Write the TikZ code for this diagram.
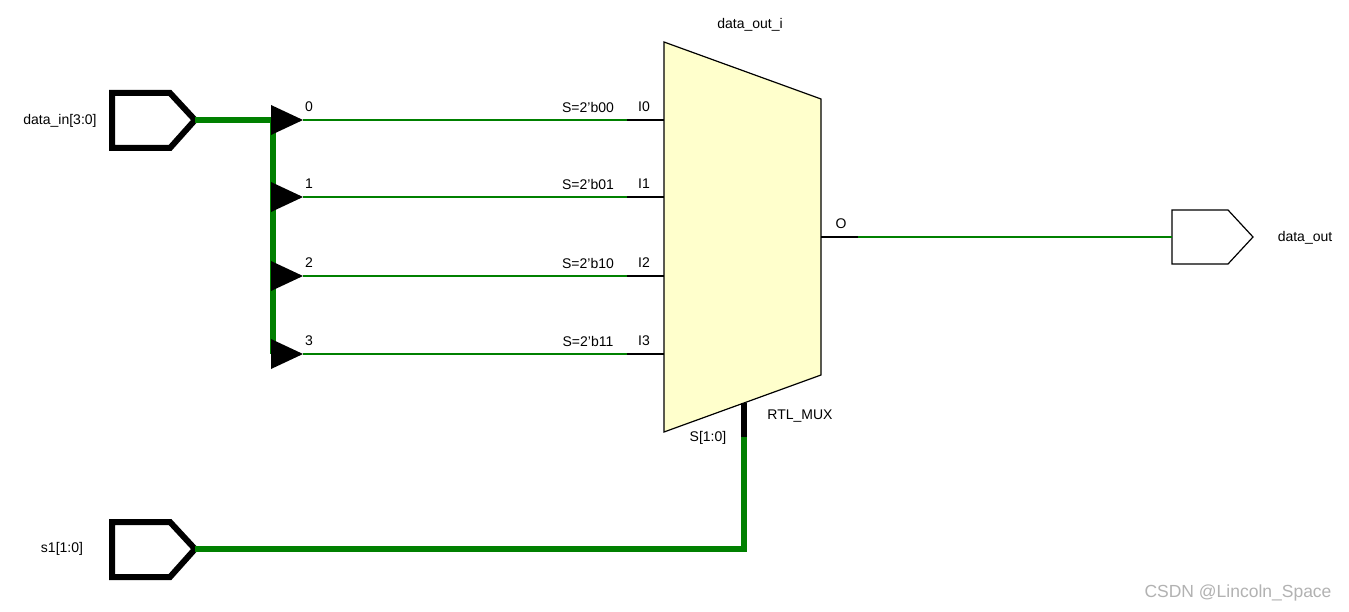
\documentclass[tikz,border=0pt]{standalone}
\usepackage{fontspec}
\setmainfont{Liberation Sans}
\definecolor{wire}{RGB}{0,128,0}
\definecolor{muxfill}{RGB}{255,255,204}
\begin{document}
\begin{tikzpicture}[x=1pt,y=-1pt,
  lbl/.style={font=\fontsize{14}{16}\selectfont,inner sep=0pt},
  bus/.style={draw=wire,line width=6pt},
  thin/.style={draw=wire,line width=1.5pt},
  blk/.style={draw=black,line width=1.5pt}]
\useasboundingbox[fill=white] (0,0) rectangle (1349,612);
% ports
\draw[line width=6pt,line join=miter] (112,93) -- (170,93) -- (195,120) -- (170,148) -- (112,148) -- cycle;
\coordinate (din) at (195,120);
\node[lbl] (dinl) at (60,121) {data\_in[3:0]};
\draw[line width=6pt,line join=miter] (112,522) -- (170,522) -- (195,549) -- (170,577) -- (112,577) -- cycle;
\coordinate (s1) at (195,549);
\node[lbl] (s1l) at (62,549) {s1[1:0]};
\draw[line width=1.2pt] (1172,210) -- (1228,210) -- (1253,237) -- (1228,264) -- (1172,264) -- cycle;
\coordinate (dout) at (1172,237);
\node[lbl] (doutl) at (1305,238) {data\_out};
% bus
\coordinate (bj) at (273,120);
\coordinate (bb) at (273,354);
\draw[bus] (din) -- (bj) -- (bb);
% mux
\draw[fill=muxfill,line width=1.2pt] (664,42) -- (821,99) -- (821,375) -- (664,432) -- cycle;
\node[lbl] (mt) at (750,25) {data\_out\_i};
\node[lbl] (rm) at (800,416) {RTL\_MUX};
\foreach \y/\i/\s in {120/0/00,197/1/01,276/2/10,354/3/11}{
  \fill (271,\y-15) -- (303,\y) -- (271,\y+15) -- cycle;
  \node[lbl,anchor=west] at (305,\y-13) {\i};
  \coordinate (r\i) at (303,\y);
  \coordinate (k\i) at (627,\y);
  \coordinate (p\i) at (664,\y);
  \draw[thin] (r\i) -- (k\i);
  \draw[blk] (k\i) -- (p\i);
  \node[lbl] at (588,\y-13) {S=2'b\s};
  \node[lbl] at (644,\y-13) {I\i};
}
% output
\coordinate (mo) at (821,237);
\coordinate (mk) at (858,237);
\draw[blk] (mo) -- (mk);
\draw[thin] (mk) -- (dout);
\node[lbl] at (841,224) {O};
% select
\coordinate (ms) at (744,403);
\coordinate (sk) at (744,437);
\coordinate (sc) at (744,549);
\draw[line width=6pt] (ms) -- (sk);
\draw[bus] (sk) -- (sc) -- (s1);
\node[lbl] at (708,438) {S[1:0]};
\node[font=\fontsize{17.5}{19}\selectfont,text=gray!60,inner sep=0pt] at (1238,593) {CSDN @Lincoln\_Space};
\end{tikzpicture}
\end{document}
